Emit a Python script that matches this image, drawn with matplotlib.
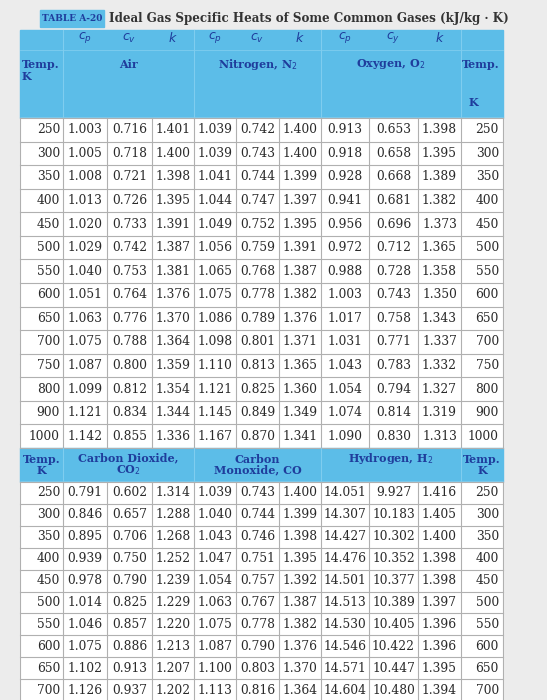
import matplotlib
matplotlib.use("Agg")
import matplotlib.pyplot as plt
from matplotlib.patches import Rectangle

temps1 = [250, 300, 350, 400, 450, 500, 550, 600, 650, 700, 750, 800, 900, 1000]
air_cp = ["1.003","1.005","1.008","1.013","1.020","1.029","1.040","1.051","1.063","1.075","1.087","1.099","1.121","1.142"]
air_cv = ["0.716","0.718","0.721","0.726","0.733","0.742","0.753","0.764","0.776","0.788","0.800","0.812","0.834","0.855"]
air_k  = ["1.401","1.400","1.398","1.395","1.391","1.387","1.381","1.376","1.370","1.364","1.359","1.354","1.344","1.336"]
n2_cp  = ["1.039","1.039","1.041","1.044","1.049","1.056","1.065","1.075","1.086","1.098","1.110","1.121","1.145","1.167"]
n2_cv  = ["0.742","0.743","0.744","0.747","0.752","0.759","0.768","0.778","0.789","0.801","0.813","0.825","0.849","0.870"]
n2_k   = ["1.400","1.400","1.399","1.397","1.395","1.391","1.387","1.382","1.376","1.371","1.365","1.360","1.349","1.341"]
o2_cp  = ["0.913","0.918","0.928","0.941","0.956","0.972","0.988","1.003","1.017","1.031","1.043","1.054","1.074","1.090"]
o2_cv  = ["0.653","0.658","0.668","0.681","0.696","0.712","0.728","0.743","0.758","0.771","0.783","0.794","0.814","0.830"]
o2_k   = ["1.398","1.395","1.389","1.382","1.373","1.365","1.358","1.350","1.343","1.337","1.332","1.327","1.319","1.313"]

temps2 = [250, 300, 350, 400, 450, 500, 550, 600, 650, 700]
co2_cp = ["0.791","0.846","0.895","0.939","0.978","1.014","1.046","1.075","1.102","1.126"]
co2_cv = ["0.602","0.657","0.706","0.750","0.790","0.825","0.857","0.886","0.913","0.937"]
co2_k  = ["1.314","1.288","1.268","1.252","1.239","1.229","1.220","1.213","1.207","1.202"]
co_cp  = ["1.039","1.040","1.043","1.047","1.054","1.063","1.075","1.087","1.100","1.113"]
co_cv  = ["0.743","0.744","0.746","0.751","0.757","0.767","0.778","0.790","0.803","0.816"]
co_k   = ["1.400","1.399","1.398","1.395","1.392","1.387","1.382","1.376","1.370","1.364"]
h2_cp  = ["14.051","14.307","14.427","14.476","14.501","14.513","14.530","14.546","14.571","14.604"]
h2_cv  = ["9.927","10.183","10.302","10.352","10.377","10.389","10.405","10.422","10.447","10.480"]
h2_k   = ["1.416","1.405","1.400","1.398","1.398","1.397","1.396","1.396","1.395","1.394"]

sym_labels = ["$c_p$", "$c_v$", "$k$", "$c_p$", "$c_v$", "$k$", "$c_p$", "$c_y$", "$k$"]
groups1 = ["Air", "Nitrogen, N$_2$", "Oxygen, O$_2$"]
groups2 = ["Carbon Dioxide,\nCO$_2$", "Carbon\nMonoxide, CO", "Hydrogen, H$_2$"]

BLUE = "#5cbde8"
NAVY = "#1f3d9c"
TXT = "#2a2a2a"
SERIF = "DejaVu Serif"

W, H = 547, 700
fig = plt.figure(figsize=(W/100, H/100), dpi=100)
fig.patch.set_facecolor("#ececec")
ax = fig.add_axes([0, 0, 1, 1])
ax.set_xlim(0, W); ax.set_ylim(H, 0); ax.axis("off")

xs = [20, 63, 107, 152, 194, 236, 279, 321, 369, 418, 461, 503]
L, R = xs[0], xs[-1]

# title
ax.add_patch(Rectangle((40, 10), 64, 17, color=BLUE, zorder=1))
ax.text(72, 18.5, "TABLE A-20", ha="center", va="center", fontsize=6.5, fontweight="bold", color=NAVY, family=SERIF)
ax.text(109, 18.5, "Ideal Gas Specific Heats of Some Common Gases (kJ/kg · K)",
        ha="left", va="center", fontsize=8.6, fontweight="bold", color="#333333", family=SERIF)

# top header
h1_top, h1_bot = 30, 118
ax.add_patch(Rectangle((L, h1_top), R-L, h1_bot-h1_top, color=BLUE, zorder=1))
for x in [xs[1], xs[4], xs[7], xs[10]]:
    ax.plot([x, x], [h1_top, h1_bot], color="#7fcdef", lw=0.8, zorder=2)
ax.plot([L, R], [50, 50], color="#7fcdef", lw=0.6, zorder=2)
for i, s in enumerate(sym_labels):
    ax.text((xs[i+1]+xs[i+2])/2, 38, s, ha="center", va="center", fontsize=9, color=NAVY, fontweight="bold")
ax.text(L+2, 64, "Temp.", ha="left", va="center", fontsize=8, fontweight="bold", color=NAVY, family=SERIF)
ax.text(L+2, 77, "K", ha="left", va="center", fontsize=8, fontweight="bold", color=NAVY, family=SERIF)
ax.text(R-3, 64, "Temp.", ha="right", va="center", fontsize=8, fontweight="bold", color=NAVY, family=SERIF)
ax.text(xs[10]+8, 103, "K", ha="left", va="center", fontsize=8, fontweight="bold", color=NAVY, family=SERIF)
for g, name in enumerate(groups1):
    ax.text((xs[1+3*g]+xs[4+3*g])/2, 64, name, ha="center", va="center", fontsize=8, fontweight="bold", color=NAVY, family=SERIF)

def draw_rows(y0, rh, temps, cols):
    n = len(temps)
    ax.add_patch(Rectangle((L, y0), R-L, rh*n, color="white", zorder=1))
    for r in range(n+1):
        ax.plot([L, R], [y0+r*rh]*2, color="#b0b0b0", lw=0.8, zorder=2)
    for x in xs:
        ax.plot([x, x], [y0, y0+rh*n], color="#b0b0b0", lw=0.8, zorder=2)
    for r, t in enumerate(temps):
        yc = y0 + (r+0.5)*rh
        ax.text(xs[1]-3, yc, str(t), ha="right", va="center", fontsize=8.8, color=TXT, family=SERIF)
        ax.text(xs[11]-4, yc, str(t), ha="right", va="center", fontsize=8.8, color=TXT, family=SERIF)
        for c, col in enumerate(cols):
            ax.text((xs[c+1]+xs[c+2])/2, yc, col[r], ha="center", va="center", fontsize=8.8, color=TXT, family=SERIF)

draw_rows(h1_bot, (448-h1_bot)/14, temps1, [air_cp, air_cv, air_k, n2_cp, n2_cv, n2_k, o2_cp, o2_cv, o2_k])

# second header
h2_top, h2_bot = 448, 482
ax.add_patch(Rectangle((L, h2_top), R-L, h2_bot-h2_top, color=BLUE, zorder=1))
for x in [xs[1], xs[4], xs[7], xs[10]]:
    ax.plot([x, x], [h2_top, h2_bot], color="#7fcdef", lw=0.8, zorder=2)
ax.text((L+xs[1])/2, 465, "Temp.\nK", ha="center", va="center", fontsize=8, fontweight="bold", color=NAVY, family=SERIF, linespacing=0.95)
ax.text((xs[10]+R)/2, 465, "Temp.\nK", ha="center", va="center", fontsize=8, fontweight="bold", color=NAVY, family=SERIF, linespacing=0.95)
for g, name in enumerate(groups2):
    yy = 458 if g == 2 else 465
    ax.text((xs[1+3*g]+xs[4+3*g])/2, yy, name, ha="center", va="center", fontsize=8, fontweight="bold", color=NAVY, family=SERIF, linespacing=0.95)

draw_rows(h2_bot, 21.9, temps2, [co2_cp, co2_cv, co2_k, co_cp, co_cv, co_k, h2_cp, h2_cv, h2_k])

fig.savefig("out.png", dpi=100, facecolor=fig.get_facecolor())
